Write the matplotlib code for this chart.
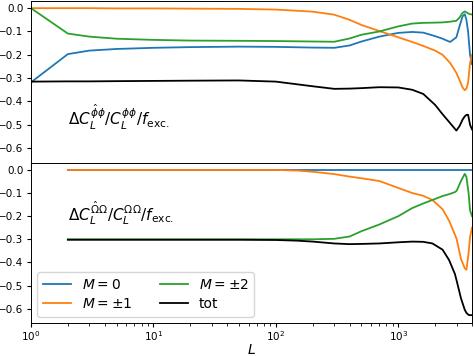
import matplotlib
matplotlib.use("Agg")
import matplotlib.pyplot as plt

# ---------------- data ----------------
# Top panel: Delta C^{phi-hat phi} / C^{phi phi} / f_exc
L_top = [1, 2, 3, 5, 10, 20, 50, 100, 200, 300, 400, 500, 700, 1000, 1300, 1600,
         2000, 2300, 2650, 2980, 3170, 3350, 3490, 3600, 3715, 3855, 4000]
top_m0 = [-0.318, -0.197, -0.182, -0.175, -0.170, -0.167, -0.165, -0.166, -0.169, -0.170,
          -0.160, -0.143, -0.122, -0.106, -0.102, -0.105, -0.120, -0.131, -0.145, -0.125,
          -0.076, -0.035, -0.026, -0.050, -0.100, -0.200, -0.240]
top_m1 = [0.0, 0.0, 0.0, -0.001, -0.001, -0.002, -0.003, -0.006, -0.015, -0.028,
          -0.050, -0.072, -0.098, -0.125, -0.145, -0.162, -0.182, -0.200, -0.235, -0.277,
          -0.310, -0.340, -0.352, -0.345, -0.320, -0.235, -0.200]
top_m2 = [0.0, -0.109, -0.122, -0.131, -0.136, -0.139, -0.140, -0.141, -0.143, -0.144,
          -0.130, -0.114, -0.100, -0.078, -0.066, -0.063, -0.062, -0.061, -0.058, -0.054,
          -0.040, -0.020, -0.014, -0.018, -0.022, -0.026, -0.027]
top_tot = [-0.315, -0.314, -0.314, -0.313, -0.312, -0.311, -0.310, -0.315, -0.335, -0.346,
           -0.345, -0.343, -0.339, -0.340, -0.350, -0.368, -0.415, -0.455, -0.493, -0.525,
           -0.505, -0.478, -0.464, -0.458, -0.457, -0.500, -0.520]

# Bottom panel: Delta C^{Omega-hat Omega} / C^{Omega Omega} / f_exc
L_bot = [2, 5, 10, 50, 100, 150, 200, 300, 400, 500, 700, 1000, 1300, 1600, 1900, 2300,
         2600, 2900, 3000, 3250, 3490, 3600, 3750, 3855, 4000]
bot_m0 = [0.0] * len(L_bot)
bot_m1 = [0.0, 0.0, 0.0, 0.0, 0.0, -0.003, -0.008, -0.018, -0.029, -0.036, -0.048, -0.078,
          -0.100, -0.112, -0.130, -0.170, -0.220, -0.280, -0.300, -0.385, -0.425, -0.432,
          -0.360, -0.290, -0.250]
bot_m2 = [-0.300, -0.300, -0.300, -0.300, -0.300, -0.300, -0.300, -0.298, -0.288, -0.265,
          -0.236, -0.200, -0.165, -0.145, -0.130, -0.113, -0.105, -0.096, -0.090, -0.048,
          -0.017, -0.030, -0.100, -0.175, -0.200]
bot_tot = [-0.302, -0.302, -0.302, -0.302, -0.303, -0.306, -0.310, -0.318, -0.321, -0.320,
           -0.318, -0.313, -0.310, -0.311, -0.318, -0.345, -0.390, -0.450, -0.480, -0.555,
           -0.605, -0.618, -0.627, -0.628, -0.628]

labels = [r"$M=0$", r"$M=\pm1$", r"$M=\pm2$", "tot"]
colors = ["#1f77b4", "#ff7f0e", "#2ca02c", "black"]

# ---------------- figure ----------------
plt.rcParams.update({
    "font.size": 7.5,
    "xtick.major.size": 3, "ytick.major.size": 3,
    "xtick.minor.size": 1.8, "ytick.minor.size": 1.8,
    "xtick.major.pad": 1.5, "ytick.major.pad": 2.5,
    "axes.linewidth": 0.7,
})

fig = plt.figure(figsize=(4.74, 3.56), dpi=100)
left, right = 0.0654, 0.9958
ax1 = fig.add_axes([left, 0.5435, right - left, 0.4545])
ax2 = fig.add_axes([left, 0.0927, right - left, 0.4508], sharex=ax1, sharey=ax1)

lw = 1.3
for vals, c in zip([top_m0, top_m1, top_m2, top_tot], colors):
    ax1.plot(L_top, vals, color=c, lw=lw)
for vals, c, lab in zip([bot_m0, bot_m1, bot_m2, bot_tot], colors, labels):
    ax2.plot(L_bot, vals, color=c, lw=lw, label=lab)

ax1.set_xscale("log")
ax1.set_xlim(1, 4000)
ax1.set_ylim(-0.662, 0.032)
ax1.set_yticks([0.0, -0.1, -0.2, -0.3, -0.4, -0.5, -0.6])
ax1.tick_params(labelbottom=False)

ax1.text(0.083, 0.19, r"$\Delta C_L^{\hat{\phi}\phi}/C_L^{\phi\phi}/f_{\rm exc.}$",
         transform=ax1.transAxes, fontsize=11, va="bottom", ha="left")
ax2.text(0.083, 0.60, r"$\Delta C_L^{\hat{\Omega}\Omega}/C_L^{\Omega\Omega}/f_{\rm exc.}$",
         transform=ax2.transAxes, fontsize=11, va="bottom", ha="left")

ax2.legend(ncol=2, loc="lower left", fontsize=10, handlelength=2.0,
           columnspacing=2.0, borderaxespad=0.45, labelspacing=0.4,
           framealpha=0.8)
ax2.set_xlabel(r"$L$", fontsize=10, labelpad=0)

fig.savefig("out.png", dpi=100)
